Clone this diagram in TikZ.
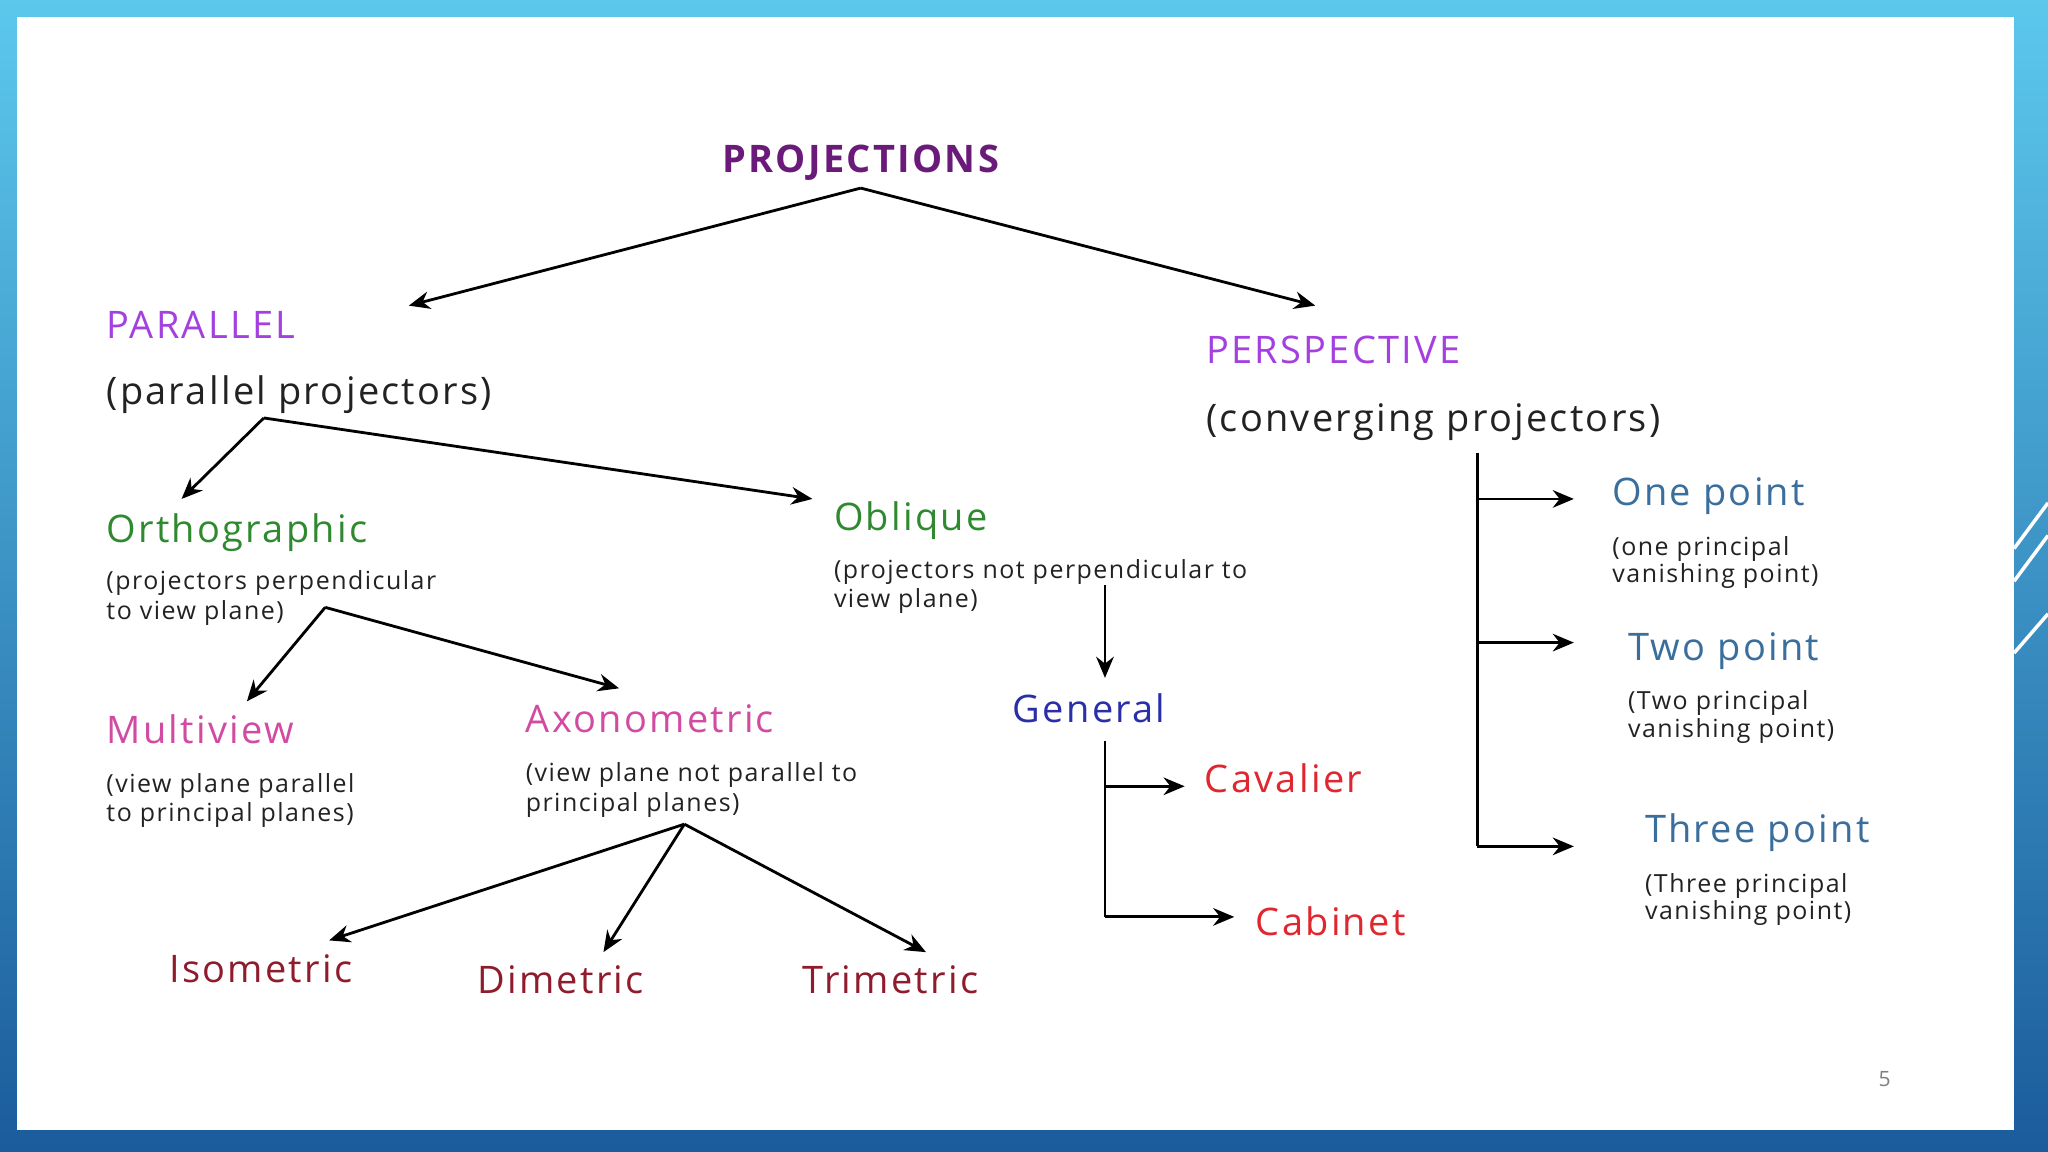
\documentclass[tikz,border=0pt]{standalone}
\usepackage{fontspec}
\setmainfont[LetterSpace=6]{Open Sans}
\usetikzlibrary{arrows.meta}
\definecolor{cproj}{HTML}{6A1B7A}
\definecolor{cpar}{HTML}{A43FE0}
\definecolor{cgreen}{HTML}{2F8A2F}
\definecolor{cpink}{HTML}{D24BA2}
\definecolor{cblue}{HTML}{2A2FA8}
\definecolor{cred}{HTML}{E0262E}
\definecolor{cdred}{HTML}{8E1C2C}
\definecolor{csteel}{HTML}{3A6E9C}
\definecolor{ctext}{HTML}{222222}
\definecolor{bgtop}{HTML}{5CC8EC}
\definecolor{bgbot}{HTML}{1B5C9C}
\tikzset{
 head/.style={anchor=base west,inner sep=0pt,font=\fontsize{10.8}{12}\selectfont},
 sub/.style={anchor=base west,inner sep=0pt,font=\fontsize{10.8}{12}\selectfont,text=ctext},
 small/.style={anchor=base west,inner sep=0pt,font=\fontsize{7.1}{8.4}\selectfont,text=ctext},
 arr/.style={-{Stealth[length=6pt,width=5pt]},line width=0.8pt,black},
 ln/.style={line width=0.8pt,black}
}
\begin{document}
\begin{tikzpicture}[x=0.013061cm,y=-0.013061cm]
\useasboundingbox (0,0) rectangle (1568,882);
\shade[top color=bgtop,bottom color=bgbot] (0,0) rectangle (1568,882);
\fill[white] (13,13) rectangle (1542,865);
\draw[white,line width=1pt] (1542,420)--(1568,385) (1542,445)--(1568,410) (1542,500)--(1568,470);
\node[text=gray,font=\fontsize{6}{7}\selectfont] (pg) at (1443,826) {5};

\node[anchor=base,inner sep=0pt,text=cproj,font=\bfseries\fontsize{10.8}{12}\selectfont] (proj) at (659,132) {PROJECTIONS};
\node[head,text=cpar] (par) at (81,259) {PARALLEL};
\node[sub] (parsub) at (81,310) {(parallel projectors)};
\node[head,text=cpar] (per) at (923,278) {PERSPECTIVE};
\node[sub] (persub) at (923,330) {(converging projectors)};
\node[head,text=cgreen] (ortho) at (81,415) {Orthographic};
\node[small] (orthosubA) at (81,451) {(projectors perpendicular};
\node[small] (orthosubB) at (81,474) {to view plane)};
\node[head,text=cgreen] (obl) at (638,406) {Oblique};
\node[small] (oblsubA) at (638,443) {(projectors not perpendicular to};
\node[small] (oblsubB) at (638,465) {view plane)};
\node[head,text=cpink] (multi) at (81,569) {Multiview};
\node[small] (multisubA) at (81,607) {(view plane parallel};
\node[small] (multisubB) at (81,629) {to principal planes)};
\node[head,text=cpink] (axo) at (402,561) {Axonometric};
\node[small] (axosubA) at (402,598) {(view plane not parallel to};
\node[small] (axosubB) at (402,621) {principal planes)};
\node[head,text=cblue] (gen) at (775,553) {General};
\node[head,text=cred] (cav) at (922,607) {Cavalier};
\node[head,text=cred] (cab) at (961,716) {Cabinet};
\node[head,text=cdred] (iso) at (129,752) {Isometric};
\node[head,text=cdred] (dim) at (365,761) {Dimetric};
\node[head,text=cdred] (tri) at (614,761) {Trimetric};
\node[head,text=csteel] (one) at (1234,387) {One point};
\node[small] (onesubA) at (1234,425) {(one principal};
\node[small] (onesubB) at (1234,446) {vanishing point)};
\node[head,text=csteel] (two) at (1246,506) {Two point};
\node[small] (twosubA) at (1246,543) {(Two principal};
\node[small] (twosubB) at (1246,565) {vanishing point)};
\node[head,text=csteel] (three) at (1259,645) {Three point};
\node[small] (threesubA) at (1259,683) {(Three principal};
\node[small] (threesubB) at (1259,704) {vanishing point)};

\coordinate (p0) at (659,144);
\coordinate (p1) at (313,234);
\coordinate (p2) at (1007,234);
\coordinate (q0) at (202,320);
\coordinate (q1) at (139,382);
\coordinate (q2) at (622,382);
\coordinate (r0) at (249,465);
\coordinate (r1) at (189,537);
\coordinate (r2) at (474,527);
\coordinate (s0) at (846,448);
\coordinate (s1) at (846,519);
\coordinate (t0) at (524,631);
\coordinate (t1) at (252,720);
\coordinate (t2) at (462,729);
\coordinate (t3) at (709,729);
\coordinate (g0) at (846,567);
\coordinate (g1) at (846,602);
\coordinate (g2) at (846,702);
\coordinate (g3) at (907,602);
\coordinate (g4) at (945,702);
\coordinate (v0) at (1131,347);
\coordinate (v1) at (1131,382);
\coordinate (v2) at (1131,492);
\coordinate (v3) at (1131,648);
\coordinate (w1) at (1205,382);
\coordinate (w2) at (1205,492);
\coordinate (w3) at (1205,648);

\draw[arr] (p0)--(p1);
\draw[arr] (p0)--(p2);
\draw[arr] (q0)--(q1);
\draw[arr] (q0)--(q2);
\draw[arr] (r0)--(r1);
\draw[arr] (r0)--(r2);
\draw[arr] (s0)--(s1);
\draw[arr] (t0)--(t1);
\draw[arr] (t0)--(t2);
\draw[arr] (t0)--(t3);
\draw[ln] (g0)--(g2);
\draw[arr] (g1)--(g3);
\draw[arr] (g2)--(g4);
\draw[ln] (v0)--(v3);
\draw[arr] (v1)--(w1);
\draw[arr] (v2)--(w2);
\draw[arr] (v3)--(w3);
\end{tikzpicture}
\end{document}
